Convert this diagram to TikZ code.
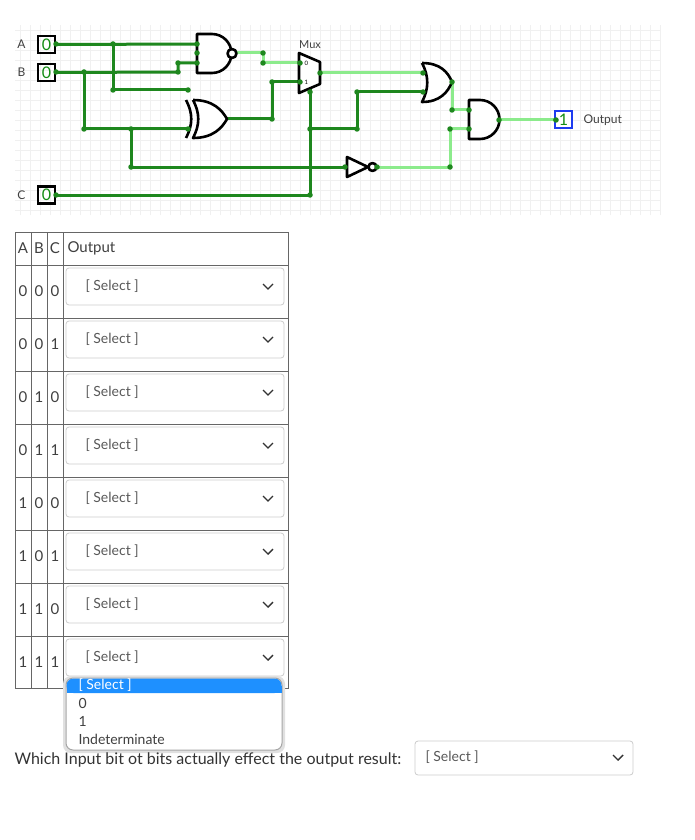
\documentclass[tikz,border=0pt]{standalone}
\usepackage{fontspec}
\setmainfont{Lato}
\definecolor{dkg}{RGB}{30,135,30}
\definecolor{ltg}{RGB}{140,235,140}
\definecolor{txg}{RGB}{20,140,20}
\definecolor{selb}{RGB}{30,144,255}
\definecolor{outb}{RGB}{30,60,240}
\begin{document}
\begin{tikzpicture}[x=1pt,y=-1pt,
  dk/.style={draw=dkg,line width=3pt},
  lt/.style={draw=ltg,line width=3pt},
  gate/.style={draw=black,line width=2.6pt,fill=white,line join=round},
  dotc/.style={circle,fill=dkg,inner sep=0pt,minimum size=5.5pt},
  inbox/.style={draw=black,line width=2.6pt,minimum size=17pt,inner sep=0pt,font=\fontsize{16}{16}\selectfont,text=txg},
  lbl/.style={font=\fontsize{12}{12}\selectfont,text=black!75},
  cell/.style={draw=black!60,line width=0.8pt},
  tx/.style={font=\fontsize{15}{15}\selectfont,text=black!75},
  sel/.style={draw=black!20,rounded corners=3pt,line width=0.8pt,fill=white},
  seltx/.style={font=\fontsize{14}{14}\selectfont,text=black!65,anchor=west},
  chev/.style={draw=black!80,line width=1.4pt}]
\useasboundingbox (0,0) rectangle (694,840);
\fill[white] (0,0) rectangle (694,840);
% grid
\draw[black!6,line width=0.5pt] (15,25) grid[step=10pt] (660,215);
% inputs
\node[inbox] (A) at (46.5,44.5) {0};
\node[inbox] (B) at (46.5,72.5) {0};
\node[inbox] (C) at (46.5,195) {0};
\node[lbl,anchor=east] (la) at (29,44) {A};
\node[lbl,anchor=east] (lb) at (29,72) {B};
\node[lbl,anchor=east] (lc) at (29,195) {C};
% coordinates
\coordinate (a1) at (113,44); \coordinate (b1) at (84,72); \coordinate (b2) at (131,129);
\coordinate (nand) at (237,53); \coordinate (xorout) at (227,119);
\coordinate (m0) at (300,63); \coordinate (m1) at (300,82); \coordinate (mout) at (320,73);
\coordinate (msel) at (310,88); \coordinate (csel) at (310,195); \coordinate (sj) at (310,129);
\coordinate (oro) at (452,82); \coordinate (ando) at (499,120);
\coordinate (noti) at (347,167); \coordinate (noto) at (377,167);
% dark wires
\draw[dk] (A.east) -- (197,44);
\draw[dk] (197,44) -- (197,53);
\draw[dk] (B.east) -- (178,72) -- (178,63) -- (197,63);
\draw[dk] (a1) -- (113,90) -- (188,90);
\draw[dk] (b1) -- (84,129) -- (188,129);
\draw[dk] (b2) -- (131,167) -- (noti);
\draw[dk] (xorout) -- (272,119) -- (272,82) -- (m1);
\draw[dk] (C.east) -- (csel) -- (msel);
\draw[dk] (sj) -- (357,129) -- (357,92) -- (423,92);
% light wires
\draw[lt] (nand) -- (263,53) -- (263,63) -- (m0);
\draw[lt] (mout) -- (423,73);
\draw[lt] (oro) -- (452,110) -- (469,110);
\draw[lt] (noto) -- (450,167) -- (450,129) -- (469,129);
\draw[lt] (ando) -- (556,120);
% gates
\draw[gate] (197,34) -- (212,34) arc[start angle=-90,end angle=90,radius=19.5] -- (197,73) -- cycle;
\draw[gate] (232,53.5) circle (4.5);
\draw[gate] (193,100) .. controls (213,100) and (222,110) .. (227,119) .. controls (222,128) and (213,138) .. (193,138) .. controls (200,125) and (200,113) .. (193,100);
\draw[gate,fill=none] (186,100) .. controls (193,113) and (193,125) .. (186,138);
\draw[gate] (422,63) .. controls (440,63) and (448,72) .. (452,82) .. controls (448,92) and (440,102) .. (422,102) .. controls (429,89) and (429,76) .. (422,63);
\draw[gate] (469,100) -- (480,100) arc[start angle=-90,end angle=90,radius=19.5] -- (469,139) -- cycle;
\draw[gate] (347,157) -- (368,167) -- (347,177) -- cycle;
\draw[gate] (372.5,167) circle (4);
\draw[gate] (299,53) -- (320,62) -- (320,84) -- (299,93) -- cycle;
\node[font=\fontsize{6}{6}\selectfont,anchor=west] (mz) at (301,63) {0};
\node[font=\fontsize{6}{6}\selectfont,anchor=west] (mo) at (301,82) {1};
\node[lbl,font=\fontsize{11}{11}\selectfont] (mux) at (310,45) {Mux};
% dots
\foreach \p in {(56,44),(113,44),(197,44),(197,53),(197,63),(178,63),(178,72),(56,72),(84,72),(113,90),(188,90),(84,129),(131,129),(188,129),(131,167),(345,167),(272,119),(272,82),(300,63),(300,82),(320,73),(310,92),(310,129),(357,129),(357,92),(423,92),(423,73),(452,82),(263,53),(263,63),(452,110),(469,110),(469,129),(450,129),(450,167),(377,167),(499,120),(556,120),(56,195),(310,195)}
  \node[dotc] at \p {};
% output
\node[draw=outb,line width=2.4pt,minimum size=17pt,inner sep=0pt,fill=white,font=\fontsize{16}{16}\selectfont,text=txg] (out) at (563.5,119.5) {1};
\node[dotc] at (556,120) {};
\node[lbl,anchor=west] (lout) at (580,120) {Output};
% table
\draw[cell] (15,232) rectangle (288,688);
\foreach \y in {265,318,371,424,477,530,583,636} \draw[cell] (15,\y) -- (288,\y);
\foreach \x in {31,47,63} \draw[cell] (\x,232) -- (\x,688);
\node[tx] (hA) at (23,248) {A};
\node[tx] (hB) at (39,248) {B};
\node[tx] (hC) at (55,248) {C};
\node[tx,anchor=west] (hO) at (64,248) {Output};
\foreach \r/\a/\b/\c in {0/0/0/0,1/0/0/1,2/0/1/0,3/0/1/1,4/1/0/0,5/1/0/1,6/1/1/0,7/1/1/1}{
  \pgfmathsetmacro{\yy}{265+53*\r}
  \node[tx] at (23,\yy+26) {\a};
  \node[tx] at (39,\yy+26) {\b};
  \node[tx] at (55,\yy+26) {\c};
  \draw[sel] (66,\yy+3) rectangle (284,\yy+40);
  \node[seltx] at (82,\yy+21) {[ Select ]};
  \draw[chev] (263,\yy+19) -- (268,\yy+24) -- (273,\yy+19);
}
% popup
\fill[black!12,rounded corners=8pt] (63,676) rectangle (285,753);
\draw[draw=black!35,line width=1pt,fill=white,rounded corners=7pt] (66,678) rectangle (282,750);
\fill[selb,rounded corners=7pt] (66.5,678.5) rectangle (281.5,693);
\fill[selb] (66.5,686) rectangle (281.5,693);
\node[seltx,text=white] (p0) at (75,685) {[ Select ]};
\node[seltx,text=black!75] (p1) at (75,703) {0};
\node[seltx,text=black!75] (p2) at (75,721) {1};
\node[seltx,text=black!75] (p3) at (75,739) {Indeterminate};
% question
\node[tx,anchor=west,text=black!80,font=\fontsize{16}{16}\selectfont] (q) at (11,760) {Which Input bit ot bits actually effect the output result:};
\draw[sel] (415,741) rectangle (633,775);
\node[seltx] (qs) at (422,757) {[ Select ]};
\draw[chev] (613,755) -- (618,760) -- (623,755);
\end{tikzpicture}
\end{document}
